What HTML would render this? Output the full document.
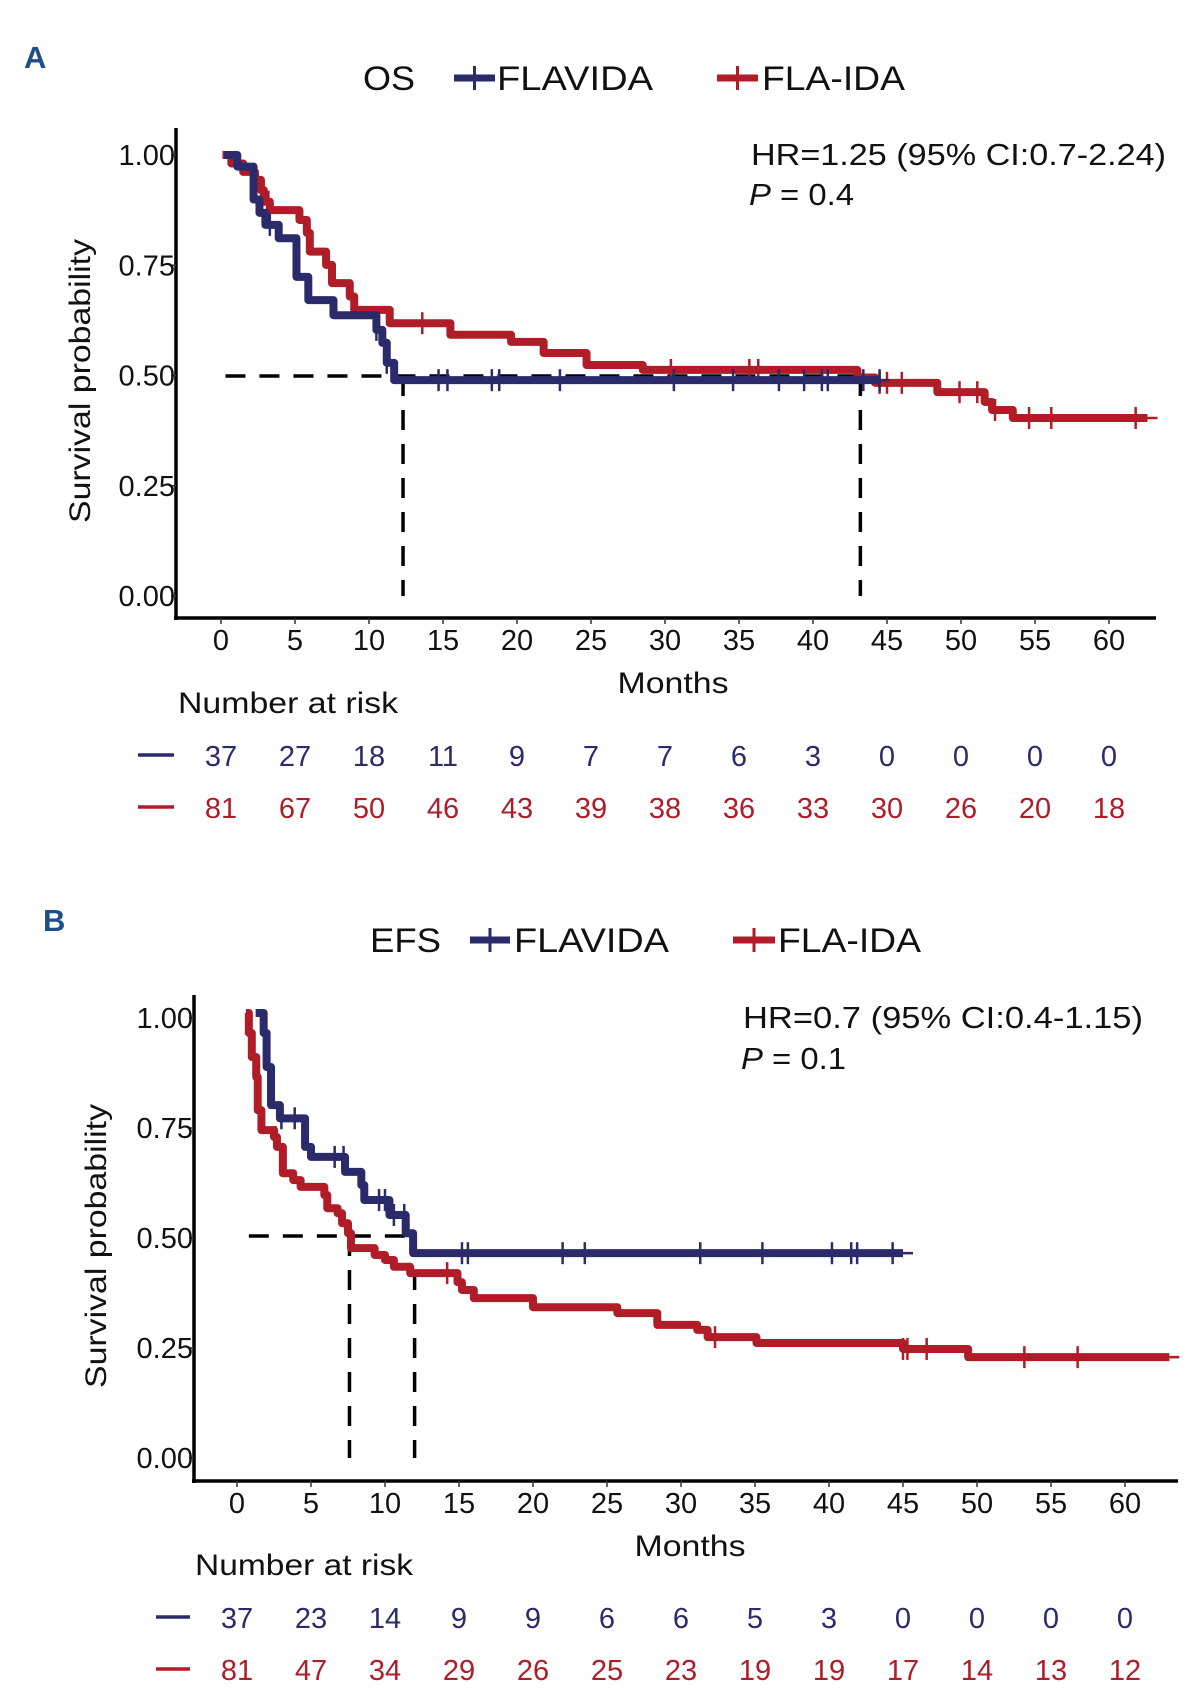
<!DOCTYPE html>
<html><head><meta charset="utf-8"><style>
html,body{margin:0;padding:0;background:#fff}
svg{display:block;font-family:"Liberation Sans",Arial,sans-serif}
</style></head><body>
<svg id="fig" width="1200" height="1695" viewBox="0 0 1200 1695" xmlns="http://www.w3.org/2000/svg"></svg>
<script>
// ---- shared data ----
const xTicks = [0,5,10,15,20,25,30,35,40,45,50,55,60];
const yTicks = [0,0.25,0.5,0.75,1];
const yTickLabels = ["0.00","0.25","0.50","0.75","1.00"];

// ---- Panel A (OS) ----
const osBlueStart = 0.2;
const osBlueSteps = [[1.1,.974],[2.2,.90],[2.6,.87],[3.0,.843],[3.9,.813],[5.1,.726],[5.9,.674],[7.6,.64],[10.5,.607],[10.9,.578],[11.2,.533],[11.7,.494]];
const osBlueEnd = 44.5;
const osBlueCensor = [3.3,10.5,11.2,14.7,15.3,18.3,18.8,22.9,30.6,34.6,37.7,39.4,40.6,41.0,43.4,44.5];
const osRedStart = 0.1;
const osRedSteps = [[0.7,.981],[1.5,.962],[2.3,.944],[2.7,.921],[2.9,.895],[3.3,.876],[5.3,.854],[5.8,.825],[6.0,.783],[7.1,.753],[7.5,.712],[8.7,.682],[9.0,.652],[11.4,.622],[15.5,.596],[19.6,.58],[21.8,.555],[24.7,.528],[28.5,.517],[43.0,.50],[44.2,.488],[48.4,.467],[51.6,.445],[52.1,.427],[53.5,.409]];
const osRedEnd = 62.6;
const osRedCensor = [3.2,13.6,30.4,35.7,36.3,44.5,45.0,46.0,49.9,51.1,52.3,54.6,56.1,61.8];
const osRiskBlue = [37,27,18,11,9,7,7,6,3,0,0,0,0];
const osRiskRed = [81,67,50,46,43,39,38,36,33,30,26,20,18];
const osMedians = [12.3,43.2];

// ---- Panel B (EFS) ----
const efsBlueStart = 1.26;
const efsBlueSteps = [[1.8,.956],[2.0,.881],[2.3,.797],[2.9,.768],[4.6,.705],[5.0,.683],[7.3,.65],[8.4,.621],[8.6,.588],[10.3,.555],[11.4,.515],[11.9,.471]];
const efsBlueEnd = 45.0;
const efsBlueCensor = [3.0,3.9,6.6,7.2,9.6,10.0,10.6,11.3,15.2,15.6,22.0,23.5,31.3,35.5,40.2,41.5,41.9,44.3];
const efsRedStart = 0.6;
const efsRedSteps = [[0.8,.956],[1.0,.903],[1.3,.859],[1.4,.786],[1.65,.742],[2.5,.727],[2.7,.705],[3.1,.647],[3.8,.632],[4.3,.617],[5.9,.599],[6.1,.57],[6.8,.559],[7.1,.537],[7.5,.515],[7.7,.482],[9.3,.467],[10.0,.456],[10.6,.441],[11.7,.427],[14.9,.407],[15.2,.39],[16.0,.372],[20.0,.352],[25.7,.339],[28.4,.313],[31.1,.302],[31.8,.286],[35.1,.273],[45.0,.26],[49.4,.242]];
const efsRedEnd = 63.0;
const efsRedCensor = [2.6,14.2,32.3,45.0,45.3,46.6,53.2,56.8];
const efsRiskBlue = [37,23,14,9,9,6,6,5,3,0,0,0,0];
const efsRiskRed = [81,47,34,29,26,25,23,19,19,17,14,13,12];
const efsMedians = [7.6,12.0];

const BLUE="#2b2a6b", RED="#b01c27";
const NS="http://www.w3.org/2000/svg";
const svg=document.getElementById('fig');
function el(tag,attrs,parent){const e=document.createElementNS(NS,tag);for(const k in attrs)e.setAttribute(k,attrs[k]);(parent||svg).appendChild(e);return e;}
function txt(s,attrs,parent){const e=el('text',attrs,parent);e.textContent=s;return e;}

function panel(cfg){
  const g=el('g',{});
  
  
  const xs=m=>cfg.x0+m*(cfg.x60-cfg.x0)/60;
  const ys=p=>cfg.cy0-p*cfg.cyr;
  const yt=p=>cfg.ty0-p*cfg.tyr;
  const L=txt(cfg.letter,{x:cfg.lx,y:cfg.ly,'font-size':31,'font-weight':'bold',fill:'#1f4e8c'},g);
  
  
  const lg=el('g',{},g);
  
  
  const t0=txt(cfg.title,{x:cfg.lgTitle[0],y:cfg.lgY,'font-size':34,fill:'#111',textLength:cfg.lgTitle[1]-cfg.lgTitle[0],lengthAdjust:'spacingAndGlyphs'},lg);
  
  
  [[cfg.lgBlue,BLUE,'FLAVIDA'],[cfg.lgRed,RED,'FLA-IDA']].forEach(([a,c,n])=>{
    const e=el('g',{},lg);
    
    
    const cy=cfg.lgY-12;
    el('line',{x1:a[0],x2:a[1],y1:cy,y2:cy,stroke:c,'stroke-width':7},e);
    el('line',{x1:(a[0]+a[1])/2,x2:(a[0]+a[1])/2,y1:cy-12,y2:cy+12,stroke:c,'stroke-width':3},e);
    txt(n,{x:a[2],y:cfg.lgY,'font-size':34,fill:'#111',textLength:a[3]-a[2],lengthAdjust:'spacingAndGlyphs'},e);
  });
  const dg=el('g',{stroke:'#000','stroke-width':3.5,'stroke-dasharray':'20 14',fill:'none'},g);
  
  
  el('line',{x1:xs(cfg.dashStart),x2:xs(cfg.medians[1]),y1:cfg.dashY,y2:cfg.dashY},dg);
  cfg.medians.forEach(m=>{el('line',{x1:xs(m),x2:xs(m),y1:cfg.dashY,y2:cfg.ty0},dg);});
  function curve(start,steps,end,censor,color,nm){
    const cg=el('g',{},g);
    
    
    let d='M'+xs(start)+','+ys(1);
    let last=1;
    steps.forEach(([t,s])=>{d+=' H'+xs(t)+' V'+ys(s);last=s;});
    d+=' H'+xs(end);
    el('path',{d:d,fill:'none',stroke:color,'stroke-width':8,'stroke-linejoin':'round'},cg);
    const valAt=t=>{let v=1;steps.forEach(([tt,s])=>{if(tt<=t)v=s;});return v;};
    censor.forEach(t=>{
      const c=el('line',{x1:xs(t),x2:xs(t),y1:ys(valAt(t))-11,y2:ys(valAt(t))+11,stroke:color,'stroke-width':2.5},cg);
      
      
    });
    el('line',{x1:xs(end),x2:xs(end)+10,y1:ys(last),y2:ys(last),stroke:color,'stroke-width':2.5},cg);
  }
  curve(cfg.redStart,cfg.redSteps,cfg.redEnd,cfg.redCensor,RED,'fla-ida-curve');
  curve(cfg.blueStart,cfg.blueSteps,cfg.blueEnd,cfg.blueCensor,BLUE,'flavida-curve');
  const ax=el('g',{},g);
  
  
  el('line',{x1:cfg.axX,x2:cfg.axX,y1:cfg.axTop,y2:cfg.axY+2,stroke:'#000','stroke-width':3.5},ax);
  el('line',{x1:cfg.axX-2,x2:cfg.axRight,y1:cfg.axY,y2:cfg.axY,stroke:'#000','stroke-width':3.5},ax);
  const yg=el('g',{},ax);
  
  
  yTicks.forEach((v,i)=>{
    el('line',{x1:cfg.axX-5,x2:cfg.axX,y1:yt(v),y2:yt(v),stroke:'#333','stroke-width':1.5},yg);
    txt(yTickLabels[i],{x:cfg.axX-1,y:yt(v)+10,'font-size':29,'text-anchor':'end',fill:'#111'},yg);
  });
  const xg=el('g',{},ax);
  
  
  xTicks.forEach(v=>{
    el('line',{x1:xs(v),x2:xs(v),y1:cfg.axY,y2:cfg.axY+6,stroke:'#333','stroke-width':1.5},xg);
    txt(String(v),{x:xs(v),y:cfg.axY+32,'font-size':29,'text-anchor':'middle',fill:'#111'},xg);
  });
  const yTitle=txt('Survival probability',{x:0,y:0,'font-size':30,'text-anchor':'middle',fill:'#111',transform:`translate(${cfg.ytX},${cfg.ytY}) rotate(-90)`,textLength:284,lengthAdjust:'spacingAndGlyphs'},g);
  
  
  const xTitle=txt('Months',{x:cfg.monthsX,y:cfg.monthsY,'font-size':30,'text-anchor':'middle',fill:'#111',textLength:111,lengthAdjust:'spacingAndGlyphs'},g);
  
  
  const hr=txt(cfg.hr,{x:cfg.hrX[0],y:cfg.hrY,'font-size':31,fill:'#111',textLength:cfg.hrX[1]-cfg.hrX[0],lengthAdjust:'spacingAndGlyphs'},g);
  
  
  const pv=el('text',{x:cfg.pX[0],y:cfg.pY,'font-size':31,fill:'#111',textLength:cfg.pX[1]-cfg.pX[0],lengthAdjust:'spacingAndGlyphs'},g);
  pv.innerHTML='<tspan font-style="italic">P</tspan> = '+cfg.p;
  
  
  const rt=el('g',{},g);
  
  
  txt('Number at risk',{x:cfg.narX[0],y:cfg.narY,'font-size':30,fill:'#111',textLength:cfg.narX[1]-cfg.narX[0],lengthAdjust:'spacingAndGlyphs'},rt);
  [[cfg.riskBlue,BLUE,cfg.riskY[0],'risk-row-flavida'],[cfg.riskRed,RED,cfg.riskY[1],'risk-row-fla-ida']].forEach(([arr,c,yy,nm])=>{
    const r=el('g',{},rt);
    
    
    el('line',{x1:cfg.dashX[0],x2:cfg.dashX[1],y1:yy,y2:yy,stroke:c,'stroke-width':3.5},r);
    arr.forEach((v,i)=>{txt(String(v),{x:xs(xTicks[i]),y:yy+11,'font-size':29,'text-anchor':'middle',fill:c},r);});
  });
}

panel({name:'panel-a-os',letter:'A',lx:24,ly:68,title:'OS',lgY:90,lgTitle:[363,415],
  lgBlue:[454,495,497,653],lgRed:[717,758,762,905],
  x0:221,x60:1109,cy0:600,cyr:445,ty0:596,tyr:441,
  axX:176,axTop:128,axY:618,axRight:1156,
  blueStart:osBlueStart,blueSteps:osBlueSteps,blueEnd:osBlueEnd,blueCensor:osBlueCensor,
  redStart:osRedStart,redSteps:osRedSteps,redEnd:osRedEnd,redCensor:osRedCensor,
  medians:osMedians,dashStart:0.3,dashY:376,
  ytX:90,ytY:381,monthsX:673,monthsY:693,
  hr:'HR=1.25 (95% CI:0.7-2.24)',hrX:[751,1166],hrY:165,p:'0.4',pX:[749,854],pY:205,
  narX:[178,398],narY:713,riskY:[755,807],dashX:[138,174],
  riskBlue:osRiskBlue,riskRed:osRiskRed});

panel({name:'panel-b-efs',letter:'B',lx:43,ly:931,title:'EFS',lgY:952,lgTitle:[370,441],
  lgBlue:[470,510,514,669],lgRed:[733,775,778,921],
  x0:237,x60:1125,cy0:1467,cyr:454,ty0:1458,tyr:440,
  axX:194,axTop:995,axY:1481,axRight:1178,
  blueStart:efsBlueStart,blueSteps:efsBlueSteps,blueEnd:efsBlueEnd,blueCensor:efsBlueCensor,
  redStart:efsRedStart,redSteps:efsRedSteps,redEnd:efsRedEnd,redCensor:efsRedCensor,
  medians:efsMedians,dashStart:0.8,dashY:1236,
  ytX:106,ytY:1246,monthsX:690,monthsY:1556,
  hr:'HR=0.7 (95% CI:0.4-1.15)',hrX:[743,1143],hrY:1028,p:'0.1',pX:[741,846],pY:1069,
  narX:[195,413],narY:1575,riskY:[1617,1669],dashX:[156,190],
  riskBlue:efsRiskBlue,riskRed:efsRiskRed});
</script>
</body></html>
